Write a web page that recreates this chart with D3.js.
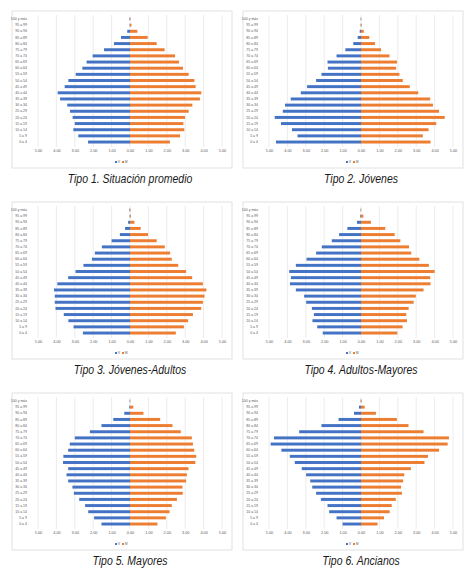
<!DOCTYPE html>
<html>
<head>
<meta charset="utf-8">
<script src="https://cdn.jsdelivr.net/npm/d3@7"></script>
<style>
  body { margin: 0; background: #fff; }
  svg { display: block; }
</style>
</head>
<body>
<svg id="chart" width="474" height="580"></svg>
<script>
// age groups, top to bottom
const ageGroups = ["100 y más", "95 a 99", "90 a 94", "85 a 89", "80 a 84", "75 a 79", "70 a 74",
    "65 a 69", "60 a 64", "55 a 59", "50 a 54", "45 a 49", "40 a 44", "35 a 39", "30 a 34",
    "25 a 29", "20 a 24", "15 a 19", "10 a 14", "5 a 9", "0 a 4"];

const titles = ["Tipo 1. Situación promedio", "Tipo 2. Jóvenes", "Tipo 3. Jóvenes-Adultos",
    "Tipo 4. Adultos-Mayores", "Tipo 5. Mayores", "Tipo 6. Ancianos"];

const legendLabels = ["V", "M"];
const tickValues = [-5, -4, -3, -2, -1, 0, 1, 2, 3, 4, 5];

// percentages, V = varones (left), M = mujeres (right)
const tipo1V = [0.03, 0.02, 0.15, 0.49, 0.87, 1.41, 2.03, 2.36, 2.59, 2.95, 3.35, 3.55, 3.93, 3.80, 3.41, 3.26, 3.12, 3.00, 3.08, 2.81, 2.28];
const tipo1M = [0.03, 0.08, 0.40, 0.96, 1.45, 1.88, 2.45, 2.66, 2.88, 3.19, 3.50, 3.57, 3.88, 3.80, 3.39, 3.19, 2.99, 2.90, 2.95, 2.72, 2.17];

const tipo2V = [0.02, 0.02, 0.07, 0.18, 0.42, 0.85, 1.33, 1.82, 1.80, 2.15, 2.44, 2.93, 3.27, 3.82, 4.13, 4.25, 4.69, 4.35, 3.75, 3.45, 4.62];
const tipo2M = [0.02, 0.04, 0.15, 0.45, 0.76, 1.09, 1.55, 1.96, 1.91, 2.09, 2.27, 2.65, 3.11, 3.76, 3.91, 4.24, 4.55, 4.09, 3.67, 3.36, 3.78];

const tipo3V = [0.03, 0.02, 0.10, 0.27, 0.55, 1.00, 1.53, 1.91, 2.07, 2.53, 2.96, 3.36, 3.95, 4.13, 4.09, 4.09, 4.05, 3.60, 3.35, 3.07, 2.56];
const tipo3M = [0.03, 0.05, 0.24, 0.58, 0.98, 1.45, 1.89, 2.18, 2.27, 2.62, 3.05, 3.38, 3.96, 4.15, 4.05, 3.96, 3.87, 3.42, 3.16, 2.93, 2.49];

const tipo4V = [0.02, 0.04, 0.22, 0.74, 1.19, 1.59, 2.13, 2.44, 2.96, 3.54, 3.90, 3.81, 3.86, 3.54, 3.09, 2.98, 2.67, 2.56, 2.64, 2.38, 2.08];
const tipo4M = [0.02, 0.13, 0.54, 1.32, 1.83, 2.14, 2.61, 2.73, 3.17, 3.69, 4.00, 3.76, 3.78, 3.40, 2.98, 2.86, 2.59, 2.46, 2.50, 2.26, 1.97];

const tipo5V = [0.02, 0.04, 0.31, 0.91, 1.55, 2.18, 3.00, 3.27, 3.36, 3.62, 3.64, 3.36, 3.45, 3.36, 3.13, 3.05, 2.76, 2.44, 2.27, 1.95, 1.55];
const tipo5M = [0.02, 0.18, 0.73, 1.64, 2.31, 2.76, 3.36, 3.42, 3.49, 3.60, 3.55, 3.18, 3.09, 3.05, 2.85, 2.87, 2.55, 2.27, 2.15, 1.95, 1.49];

const tipo6V = [0.02, 0.11, 0.38, 1.22, 2.15, 3.36, 4.73, 4.91, 4.33, 3.87, 3.60, 3.22, 2.98, 2.76, 2.65, 2.44, 2.18, 1.82, 1.73, 1.33, 1.00];
const tipo6M = [0.04, 0.20, 0.81, 1.95, 2.58, 3.40, 4.78, 4.71, 4.24, 3.64, 3.45, 2.71, 2.35, 2.29, 2.18, 2.22, 1.89, 1.67, 1.56, 1.25, 0.90];

const series = [[tipo1V, tipo1M], [tipo2V, tipo2M], [tipo3V, tipo3M],
    [tipo4V, tipo4M], [tipo5V, tipo5M], [tipo6V, tipo6M]];

const BLUE = "#4472c4";
const ORANGE = "#ed7d31";
const GRID = "#d9d9d9";
const TEXT = "#595959";
const BOX_W = 220, BOX_H = 157;
const COLS = [12, 243];
const ROWS = [10, 201, 392];

const svg = d3.select("#chart");

function drawPanel(x0, y0, title, vData, mData) {
    let g = svg.append("g")
        .attr("transform", "translate(" + x0 + "," + y0 + ")");

    g.append("rect")
        .attr("x", 0)
        .attr("y", 1)
        .attr("width", BOX_W)
        .attr("height", BOX_H)
        .attr("fill", "#fff")
        .attr("stroke", GRID)
        .attr("stroke-width", 0.8);

    let x = d3.scaleLinear().domain([-5, 5]).range([26, 210]);
    let y = d3.scaleBand()
        .domain(ageGroups)
        .range([5.9, 135.1])
        .paddingInner(0.52)
        .paddingOuter(0.26);

    g.append("g").selectAll("line")
        .data(tickValues)
        .join("line")
        .attr("x1", d => x(d))
        .attr("x2", d => x(d))
        .attr("y1", 5)
        .attr("y2", 137)
        .attr("stroke", GRID)
        .attr("stroke-width", 0.5);

    let rows = ageGroups.map((age, i) => ({age: age, v: vData[i], m: mData[i]}));

    g.append("g").selectAll("rect")
        .data(rows)
        .join("rect")
        .attr("x", d => x(-d.v))
        .attr("width", d => x(0) - x(-d.v))
        .attr("y", d => y(d.age))
        .attr("height", y.bandwidth())
        .attr("fill", BLUE);

    g.append("g").selectAll("rect")
        .data(rows)
        .join("rect")
        .attr("x", x(0))
        .attr("width", d => x(d.m) - x(0))
        .attr("y", d => y(d.age))
        .attr("height", y.bandwidth())
        .attr("fill", ORANGE);

    // category labels
    let yAxis = g.append("g")
        .attr("transform", "translate(15,0)")
        .call(d3.axisLeft(y).tickSize(0).tickPadding(0));
    yAxis.select(".domain").remove();
    yAxis.selectAll("text")
        .attr("fill", TEXT)
        .style("font-family", "Liberation Sans, Arial, sans-serif")
        .style("font-size", "3.5px");

    // value labels
    let xAxis = g.append("g")
        .attr("transform", "translate(0,139)")
        .call(d3.axisBottom(x)
            .tickValues(tickValues)
            .tickSize(0)
            .tickPadding(0)
            .tickFormat(d => Math.abs(d).toFixed(2)));
    xAxis.select(".domain").remove();
    xAxis.selectAll("text")
        .attr("fill", TEXT)
        .style("font-family", "Liberation Sans, Arial, sans-serif")
        .style("font-size", "3.8px");

    // legend
    let legend = g.append("g")
        .attr("transform", "translate(103,152)");
    legendLabels.forEach((label, i) => {
        let item = legend.append("g").attr("transform", "translate(" + (i * 7) + ",0)");
        item.append("rect")
            .attr("x", 0)
            .attr("y", -1)
            .attr("width", 2)
            .attr("height", 2)
            .attr("fill", i === 0 ? BLUE : ORANGE);
        item.append("text")
            .attr("x", 2.8)
            .attr("y", 1.2)
            .attr("fill", TEXT)
            .style("font-family", "Liberation Sans, Arial, sans-serif")
            .style("font-size", "3.4px")
            .text(label);
    });

    // panel caption, squeezed horizontally like the original condensed face
    g.append("text")
        .attr("transform", "translate(" + x(0) + ",172.5) scale(0.875,1)")
        .attr("text-anchor", "middle")
        .attr("fill", "#1a1a1a")
        .style("font-family", "'Liberation Sans', Arial, sans-serif")
        .style("font-style", "italic")
        .style("font-size", "12px")
        .text(title);
}

series.forEach((s, i) => {
    drawPanel(COLS[i % 2], ROWS[Math.floor(i / 2)], titles[i], s[0], s[1]);
});
</script>
</body>
</html>
